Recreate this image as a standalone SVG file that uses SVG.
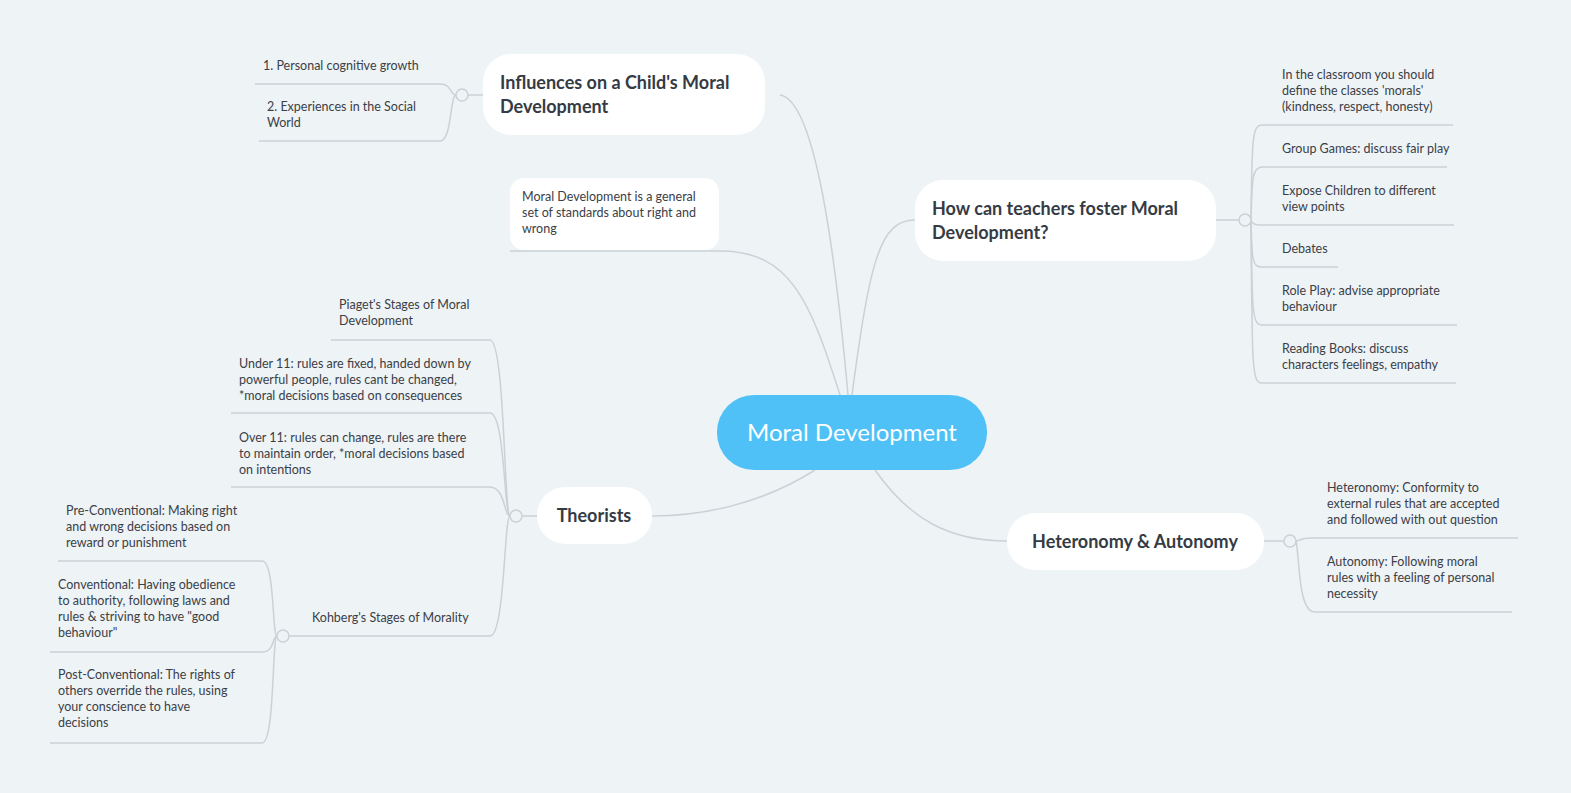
<svg xmlns="http://www.w3.org/2000/svg" width="1571" height="793" viewBox="0 0 1571 793">
<style>
.t{font-family:Lato,"Noto Sans",sans-serif;font-size:12.5px;fill:#3b4047}
.m{font-family:Lato,"Noto Sans",sans-serif;font-size:18px;font-weight:bold;fill:#353b44}
.c{fill:none;stroke:#ccd1d5;stroke-width:1.5}
.n{fill:#fff}
.o{fill:#eef3f6;stroke:#ccd1d5;stroke-width:1.5}
</style>
<rect width="1571" height="793" fill="#eef3f6"/>
<g id="connectors">
<path class="c" d="M848,395 C835,250 815,100 780,95"/>
<path class="c" d="M852,395 C870,260 880,220 915,220"/>
<path class="c" d="M840,395 C810,300 790,251 720,251 H510"/>
<path class="c" d="M815,470 C760,505 700,516 652,516"/>
<path class="c" d="M875,470 C910,520 950,541 1007,541"/>
<path class="c" d="M483,95 H468"/>
<path class="c" d="M456,95 C450,95 452,84 440,84 H255"/>
<path class="c" d="M456,95 C450,95 452,141 440,141 H259"/>
<path class="c" d="M1216,220 H1239"/>
<path class="c" d="M1251,220 C1252,140 1252,125 1262,125 H1453"/>
<path class="c" d="M1251,220 C1252,180 1252,167 1262,167 H1447"/>
<path class="c" d="M1251,220 C1252,222 1252,225 1262,225 H1454"/>
<path class="c" d="M1251,220 C1252,260 1252,267 1262,267 H1338"/>
<path class="c" d="M1251,220 C1252,310 1252,325 1262,325 H1457"/>
<path class="c" d="M1251,220 C1252,370 1252,383 1262,383 H1456"/>
<path class="c" d="M1264,541 H1284"/>
<path class="c" d="M1296,541 C1300,541 1300,538 1310,538 H1518"/>
<path class="c" d="M1296,541 C1300,560 1298,612 1315,612 H1512"/>
<path class="c" d="M537,516 H522"/>
<path class="c" d="M510,516 C504,516 505,340 490,340 H331"/>
<path class="c" d="M510,516 C504,516 505,413 490,413 H231"/>
<path class="c" d="M510,516 C504,516 505,487 490,487 H231"/>
<path class="c" d="M510,516 C504,516 505,636 490,636 H289"/>
<path class="c" d="M277,636 C272,636 275,561 262,561 H58"/>
<path class="c" d="M277,636 C272,636 275,652 262,652 H50"/>
<path class="c" d="M277,636 C272,636 275,743 262,743 H50"/>
<circle class="o" cx="462" cy="95" r="6"/>
<circle class="o" cx="1245" cy="220" r="6"/>
<circle class="o" cx="1290" cy="541" r="6"/>
<circle class="o" cx="516" cy="516" r="6"/>
<circle class="o" cx="283" cy="636" r="6"/>
</g>
<g id="center"><rect x="717" y="395" width="270" height="75" rx="37" fill="#4fc1f7"/>
<text x="852" y="441" text-anchor="middle" font-family="Lato,'Noto Sans',sans-serif" font-size="24" fill="#fff">Moral Development</text></g>
<g id="influences"><rect class="n" x="483" y="54" width="282" height="81" rx="28"/>
<text class="m" x="500" y="89">Influences on a Child's Moral</text><text class="m" x="500" y="113">Development</text></g>
<g id="teachers"><rect class="n" x="915" y="180" width="301" height="81" rx="28"/>
<text class="m" x="932" y="215">How can teachers foster Moral</text><text class="m" x="932" y="239">Development?</text></g>
<g id="theorists"><rect class="n" x="537" y="487" width="115" height="57" rx="28"/>
<text class="m" x="594" y="522" text-anchor="middle">Theorists</text></g>
<g id="heteronomy"><rect class="n" x="1007" y="513" width="257" height="57" rx="28"/>
<text class="m" x="1135" y="548" text-anchor="middle">Heteronomy &amp; Autonomy</text></g>
<g id="definition"><rect class="n" x="510" y="178" width="209" height="72" rx="14"/>
<text class="t" x="522" y="201">Moral Development is a general</text><text class="t" x="522" y="217">set of standards about right and</text><text class="t" x="522" y="233">wrong</text></g>
<g id="influence-items">
<text class="t" x="263" y="70">1. Personal cognitive growth</text>
<text class="t" x="267" y="111">2. Experiences in the Social</text><text class="t" x="267" y="127">World</text></g>
<g id="teacher-items">
<text class="t" x="1282" y="79">In the classroom you should</text><text class="t" x="1282" y="95">define the classes 'morals'</text><text class="t" x="1282" y="111">(kindness, respect, honesty)</text>
<text class="t" x="1282" y="153">Group Games: discuss fair play</text>
<text class="t" x="1282" y="195">Expose Children to different</text><text class="t" x="1282" y="211">view points</text>
<text class="t" x="1282" y="253">Debates</text>
<text class="t" x="1282" y="295">Role Play: advise appropriate</text><text class="t" x="1282" y="311">behaviour</text>
<text class="t" x="1282" y="353">Reading Books: discuss</text><text class="t" x="1282" y="369">characters feelings, empathy</text></g>
<g id="hetero-items">
<text class="t" x="1327" y="492">Heteronomy: Conformity to</text><text class="t" x="1327" y="508">external rules that are accepted</text><text class="t" x="1327" y="524">and followed with out question</text>
<text class="t" x="1327" y="566">Autonomy: Following moral</text><text class="t" x="1327" y="582">rules with a feeling of personal</text><text class="t" x="1327" y="598">necessity</text></g>
<g id="theorist-items">
<text class="t" x="339" y="309">Piaget's Stages of Moral</text><text class="t" x="339" y="325">Development</text>
<text class="t" x="239" y="368">Under 11: rules are fixed, handed down by</text><text class="t" x="239" y="384">powerful people, rules cant be changed,</text><text class="t" x="239" y="400">*moral decisions based on consequences</text>
<text class="t" x="239" y="442">Over 11: rules can change, rules are there</text><text class="t" x="239" y="458">to maintain order, *moral decisions based</text><text class="t" x="239" y="474">on intentions</text>
<text class="t" x="312" y="622">Kohberg's Stages of Morality</text>
<text class="t" x="66" y="515">Pre-Conventional: Making right</text><text class="t" x="66" y="531">and wrong decisions based on</text><text class="t" x="66" y="547">reward or punishment</text>
<text class="t" x="58" y="589">Conventional: Having obedience</text><text class="t" x="58" y="605">to authority, following laws and</text><text class="t" x="58" y="621">rules &amp; striving to have "good</text><text class="t" x="58" y="637">behaviour"</text>
<text class="t" x="58" y="679">Post-Conventional: The rights of</text><text class="t" x="58" y="695">others override the rules, using</text><text class="t" x="58" y="711">your conscience to have</text><text class="t" x="58" y="727">decisions</text></g>
</svg>
